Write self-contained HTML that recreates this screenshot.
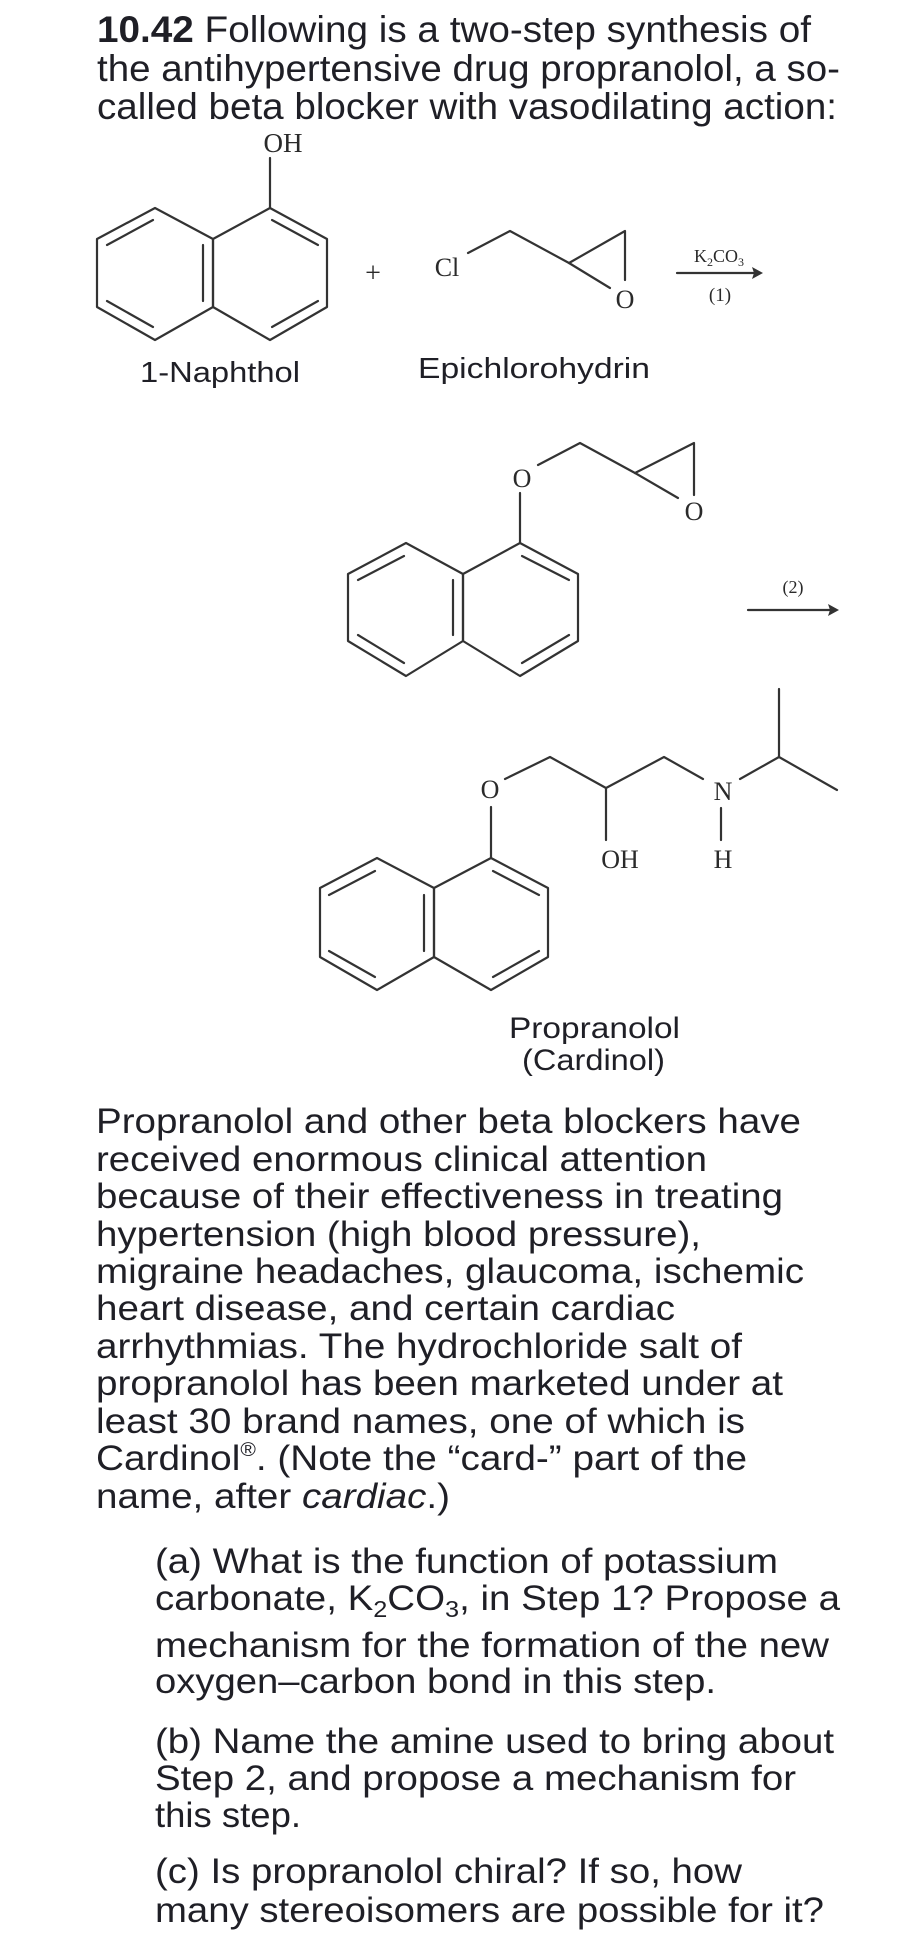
<!DOCTYPE html>
<html><head><meta charset="utf-8"><style>
html,body{margin:0;padding:0;background:#fff}
svg{display:block}
.t{font-family:"Liberation Sans",Arial,sans-serif;fill:#1f1f26}
.s{font-family:"Liberation Serif","Times New Roman",serif;fill:#2a2a2a}
.l{stroke:#333;stroke-width:2.2;fill:none;stroke-linecap:round;stroke-linejoin:round}
</style></head><body>
<svg width="918" height="1938" viewBox="0 0 918 1938" xmlns="http://www.w3.org/2000/svg">
<!-- Title -->
<g class="t" font-size="37">
<text x="97" y="42" textLength="714" lengthAdjust="spacingAndGlyphs"><tspan font-weight="bold">10.42</tspan> Following is a two-step synthesis of</text>
<text x="97" y="81" textLength="743" lengthAdjust="spacingAndGlyphs">the antihypertensive drug propranolol, a so-</text>
<text x="97" y="119" textLength="740" lengthAdjust="spacingAndGlyphs">called beta blocker with vasodilating action:</text>
</g>

<!-- 1-Naphthol -->
<text class="s" x="283" y="152" font-size="27" text-anchor="middle">OH</text>
<g class="l">
<line x1="270" y1="158" x2="270" y2="208"/>
<polygon points="270,208 327,239 327,307 270,340 213,307 213,239"/>
<polygon points="155,208 213,239 213,307 155,340 97,307 97,239"/>
<line x1="272" y1="220" x2="318" y2="245"/>
<line x1="318" y1="301" x2="272" y2="327"/>
<line x1="203" y1="245" x2="203" y2="301"/>
<line x1="153" y1="220" x2="107" y2="245"/>
<line x1="107" y1="301" x2="153" y2="327"/>
</g>
<text class="t" x="140" y="382" font-size="29" textLength="160" lengthAdjust="spacingAndGlyphs">1-Naphthol</text>

<text class="s" x="373" y="282" font-size="28" text-anchor="middle">+</text>

<!-- Epichlorohydrin -->
<text class="s" x="447" y="276" font-size="26" text-anchor="middle">Cl</text>
<g class="l">
<polyline points="468,253 510,231 569,263 625,231 625,280"/>
<line x1="569" y1="263" x2="610" y2="288"/>
</g>
<text class="s" x="625" y="308" font-size="26" text-anchor="middle">O</text>
<text class="t" x="418" y="378" font-size="29" textLength="232" lengthAdjust="spacingAndGlyphs">Epichlorohydrin</text>

<!-- Arrow 1 -->
<text class="s" x="719" y="262" font-size="18" text-anchor="middle">K<tspan font-size="12" dy="4">2</tspan><tspan dy="-4">CO</tspan><tspan font-size="12" dy="4">3</tspan></text>
<line class="l" x1="677" y1="273" x2="756" y2="273" stroke-width="1.8"/>
<polygon points="763,273 752,267 754,273 752,279" fill="#333"/>
<text class="s" x="720" y="301" font-size="19" text-anchor="middle">(1)</text>

<!-- Intermediate -->
<text class="s" x="522" y="487" font-size="26" text-anchor="middle">O</text>
<g class="l">
<polyline points="538,465 580,443 635,473 694,443 694,495"/>
<line x1="635" y1="473" x2="678" y2="498"/>
<line x1="520" y1="493" x2="520" y2="543"/>
<polygon points="520,543 578,574 578,641 520,676 463,641 463,574"/>
<polygon points="406,543 463,574 463,641 406,676 348,641 348,574"/>
<line x1="522" y1="556" x2="569" y2="580"/>
<line x1="569" y1="635" x2="522" y2="663"/>
<line x1="453" y1="580" x2="453" y2="635"/>
<line x1="404" y1="556" x2="358" y2="580"/>
<line x1="358" y1="635" x2="404" y2="663"/>
</g>
<text class="s" x="694" y="520" font-size="26" text-anchor="middle">O</text>

<!-- Arrow 2 -->
<text class="s" x="793" y="593" font-size="18" text-anchor="middle">(2)</text>
<line class="l" x1="748" y1="610" x2="832" y2="610" stroke-width="1.8"/>
<polygon points="839,610 828,604 830,610 828,616" fill="#333"/>

<!-- Propranolol -->
<text class="s" x="490" y="798" font-size="26" text-anchor="middle">O</text>
<g class="l">
<polyline points="505,779 550,757 606,788 664,757 703,779"/>
<line x1="606" y1="788" x2="606" y2="840"/>
<polyline points="740,779 779,757 837,790"/>
<line x1="779" y1="757" x2="779" y2="689"/>
<line x1="721" y1="808" x2="721" y2="840"/>
<line x1="491" y1="807" x2="491" y2="858"/>
<polygon points="491,858 548,888 548,957 491,990 434,957 434,888"/>
<polygon points="377,858 434,888 434,957 377,990 320,957 320,888"/>
<line x1="493" y1="871" x2="539" y2="895"/>
<line x1="539" y1="951" x2="493" y2="977"/>
<line x1="424" y1="895" x2="424" y2="951"/>
<line x1="375" y1="871" x2="329" y2="895"/>
<line x1="329" y1="951" x2="375" y2="977"/>
</g>
<text class="s" x="723" y="800" font-size="26" text-anchor="middle">N</text>
<text class="s" x="620" y="868" font-size="26" text-anchor="middle">OH</text>
<text class="s" x="723" y="868" font-size="26" text-anchor="middle">H</text>
<text class="t" x="509" y="1038" font-size="30" textLength="171" lengthAdjust="spacingAndGlyphs">Propranolol</text>
<text class="t" x="522" y="1070" font-size="30" textLength="143" lengthAdjust="spacingAndGlyphs">(Cardinol)</text>

<!-- Body -->
<g class="t" font-size="35">
<text x="96" y="1133" textLength="705" lengthAdjust="spacingAndGlyphs">Propranolol and other beta blockers have</text>
<text x="96" y="1171" textLength="611" lengthAdjust="spacingAndGlyphs">received enormous clinical attention</text>
<text x="96" y="1208" textLength="687" lengthAdjust="spacingAndGlyphs">because of their effectiveness in treating</text>
<text x="96" y="1246" textLength="605" lengthAdjust="spacingAndGlyphs">hypertension (high blood pressure),</text>
<text x="96" y="1283" textLength="708" lengthAdjust="spacingAndGlyphs">migraine headaches, glaucoma, ischemic</text>
<text x="96" y="1320" textLength="579" lengthAdjust="spacingAndGlyphs">heart disease, and certain cardiac</text>
<text x="96" y="1358" textLength="646" lengthAdjust="spacingAndGlyphs">arrhythmias. The hydrochloride salt of</text>
<text x="96" y="1395" textLength="687" lengthAdjust="spacingAndGlyphs">propranolol has been marketed under at</text>
<text x="96" y="1433" textLength="649" lengthAdjust="spacingAndGlyphs">least 30 brand names, one of which is</text>
<text x="96" y="1470" textLength="651" lengthAdjust="spacingAndGlyphs">Cardinol<tspan font-size="19" dy="-14">®</tspan><tspan dy="14">. (Note the “card-” part of the</tspan></text>
<text x="96" y="1508" textLength="354" lengthAdjust="spacingAndGlyphs">name, after <tspan font-style="italic">cardiac</tspan>.)</text>

<text x="155" y="1573" textLength="623" lengthAdjust="spacingAndGlyphs">(a) What is the function of potassium</text>
<text x="155" y="1610" textLength="685" lengthAdjust="spacingAndGlyphs">carbonate, K<tspan font-size="23" dy="7">2</tspan><tspan dy="-7">CO</tspan><tspan font-size="23" dy="7">3</tspan><tspan dy="-7">, in Step 1? Propose a</tspan></text>
<text x="155" y="1657" textLength="674" lengthAdjust="spacingAndGlyphs">mechanism for the formation of the new</text>
<text x="155" y="1693" textLength="561" lengthAdjust="spacingAndGlyphs">oxygen–carbon bond in this step.</text>
<text x="155" y="1753" textLength="679" lengthAdjust="spacingAndGlyphs">(b) Name the amine used to bring about</text>
<text x="155" y="1790" textLength="641" lengthAdjust="spacingAndGlyphs">Step 2, and propose a mechanism for</text>
<text x="155" y="1827" textLength="146" lengthAdjust="spacingAndGlyphs">this step.</text>
<text x="155" y="1883" textLength="587" lengthAdjust="spacingAndGlyphs">(c) Is propranolol chiral? If so, how</text>
<text x="155" y="1922" textLength="669" lengthAdjust="spacingAndGlyphs">many stereoisomers are possible for it?</text>
</g>
</svg>
</body></html>
